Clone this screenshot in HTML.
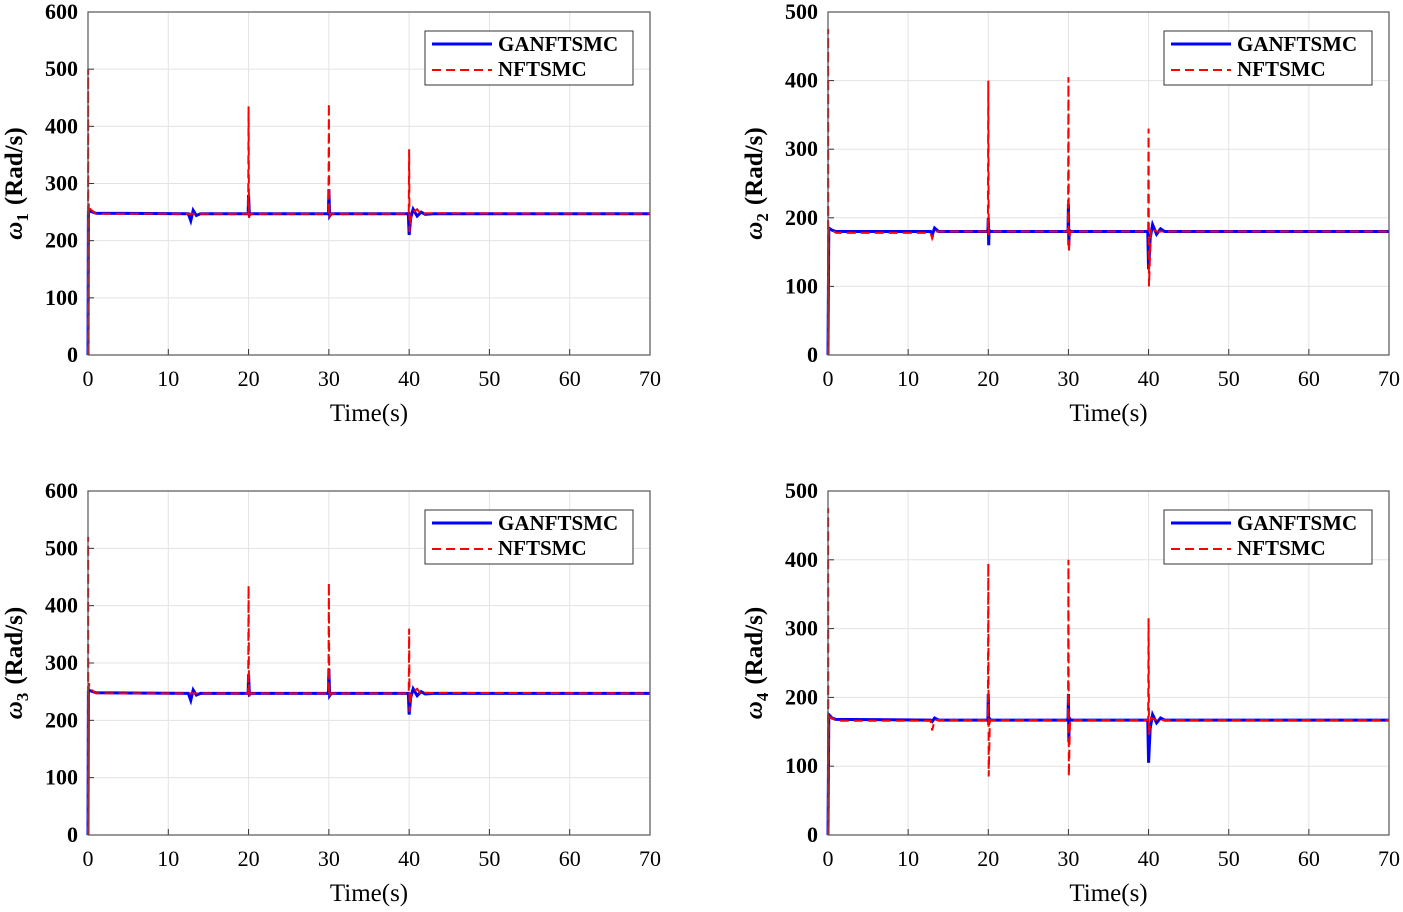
<!DOCTYPE html>
<html><head><meta charset="utf-8"><style>
body{margin:0;background:#fff}
svg text{font-family:"Liberation Serif","Times New Roman",serif}
</style></head><body>
<svg id="s" width="1403" height="907" xmlns="http://www.w3.org/2000/svg" font-family="Liberation Serif, serif"></svg>
<script>
const xTicks=[0,10,20,30,40,50,60,70];
const yTicksA=[0,100,200,300,400,500,600];
const yTicksB=[0,100,200,300,400,500];
const seriesNames=["GANFTSMC","NFTSMC"];
// panel 1
const p1GT=[0,0.05,0.2,1,12.5,12.8,13.1,13.5,14,19.95,20,20.1,20.3,29.95,30,30.1,30.3,39.9,40,40.2,40.5,41,41.5,42,43,70];
const p1GV=[0,250,252,248,247,235,253,244,247,247,280,245,247,247,290,243,247,247,210,240,255,243,250,246,247,247];
const p1NT=[0,0.02,0.05,0.1,0.3,1,19.95,20,20.05,20.2,29.95,30,30.05,30.2,39.95,40,40.05,40.3,41,41.5,42,70];
const p1NV=[0,500,0,265,255,247,247,435,240,247,247,440,240,247,247,360,215,248,255,245,248,247];
// panel 2
const p2GT=[0,0.1,0.5,1,12.8,13,13.3,13.8,19.95,20,20.05,20.1,20.3,29.95,30,30.05,30.1,30.3,39.9,40,40.2,40.5,41,41.5,42,70];
const p2GV=[0,185,182,180,180,175,185,180,180,200,160,182,180,180,220,160,182,180,180,125,170,190,176,184,180,180];
const p2NT=[0,0.02,0.05,0.1,0.5,1,12.8,13,13.3,19.95,20,20.05,20.2,29.95,30,30.05,30.2,39.95,40,40.05,40.3,41,70];
const p2NV=[0,475,0,185,182,178,178,170,180,180,400,175,180,180,405,150,180,180,330,100,185,180,180];
// panel 3
const p3GT=[0,0.05,0.2,1,12.5,12.8,13.1,13.5,14,19.95,20,20.1,20.3,29.95,30,30.1,30.3,39.9,40,40.2,40.5,41,41.5,42,43,70];
const p3GV=[0,250,252,248,247,235,253,244,247,247,280,245,247,247,290,243,247,247,210,240,255,243,250,246,247,247];
const p3NT=[0,0.02,0.05,0.1,0.3,1,19.95,20,20.05,20.2,29.95,30,30.05,30.2,39.95,40,40.05,40.3,41,41.5,42,70];
const p3NV=[0,520,0,265,255,247,247,435,240,247,247,440,240,247,247,360,215,248,255,245,248,247];
// panel 4
const p4GT=[0,0.1,0.5,1,12.8,13,13.3,13.8,19.95,20,20.05,20.1,20.3,29.95,30,30.05,30.1,30.3,39.9,40,40.2,40.5,41,41.5,42,70];
const p4GV=[0,175,170,168,167,165,170,167,167,205,160,170,167,167,205,135,170,167,167,105,155,175,163,170,167,167];
const p4NT=[0,0.02,0.05,0.1,0.5,1,12.8,13,13.3,19.95,20,20.05,20.2,29.95,30,30.05,30.2,39.95,40,40.05,40.3,41,70];
const p4NV=[0,475,0,172,170,166,166,152,167,167,395,85,167,167,400,85,167,167,315,145,170,167,167];

const NS="http://www.w3.org/2000/svg";
const svg=document.getElementById('s');
const FF='Liberation Serif, serif';
function el(tag,attrs,parent){const e=document.createElementNS(NS,tag);for(const k in attrs)e.setAttribute(k,attrs[k]);if(tag==='text')e.setAttribute('font-family',FF);(parent||svg).appendChild(e);return e;}
const panels=[
 {x0:88,x1:650,y0:355,y1:12,ymax:600,yt:yTicksA,sub:"1",gt:p1GT,gv:p1GV,nt:p1NT,nv:p1NV,lx:425},
 {x0:828,x1:1389,y0:355,y1:12,ymax:500,yt:yTicksB,sub:"2",gt:p2GT,gv:p2GV,nt:p2NT,nv:p2NV,lx:1164},
 {x0:88,x1:650,y0:835,y1:491,ymax:600,yt:yTicksA,sub:"3",gt:p3GT,gv:p3GV,nt:p3NT,nv:p3NV,lx:425},
 {x0:828,x1:1389,y0:835,y1:491,ymax:500,yt:yTicksB,sub:"4",gt:p4GT,gv:p4GV,nt:p4NT,nv:p4NV,lx:1164}
];
panels.forEach((p,i)=>{
 const g=el('g',{});
 
 
 const X=t=>p.x0+(t/70)*(p.x1-p.x0);
 const Y=v=>p.y0-(v/p.ymax)*(p.y0-p.y1);
 el('rect',{x:p.x0,y:p.y1,width:p.x1-p.x0,height:p.y0-p.y1,fill:'#fff'},g);
 xTicks.forEach(t=>{
  el('line',{x1:X(t),x2:X(t),y1:p.y1,y2:p.y0,stroke:'#e3e3e3','stroke-width':1},g);
  el('line',{x1:X(t),x2:X(t),y1:p.y0,y2:p.y0-6,stroke:'#333'},g);
  const tx=el('text',{x:X(t),y:p.y0+31,'text-anchor':'middle','font-size':22},g);tx.textContent=t;
  
  
 });
 p.yt.forEach(v=>{
  el('line',{x1:p.x0,x2:p.x1,y1:Y(v),y2:Y(v),stroke:'#e3e3e3','stroke-width':1},g);
  el('line',{x1:p.x0,x2:p.x0+6,y1:Y(v),y2:Y(v),stroke:'#333'},g);
  const tx=el('text',{x:p.x0-10,y:Y(v)+7,'text-anchor':'end','font-size':22,'font-weight':'bold'},g);tx.textContent=v;
  
  
 });
 const pts=(T,V)=>T.map((t,j)=>X(t).toFixed(2)+','+Y(V[j]).toFixed(2)).join(' ');
 const lg=el('polyline',{points:pts(p.gt,p.gv),fill:'none',stroke:'#0000ff','stroke-width':3},g);
 
 
 const ln=el('polyline',{points:pts(p.nt,p.nv),fill:'none',stroke:'#ff0000','stroke-width':2,'stroke-dasharray':'9,5'},g);
 
 
 el('rect',{x:p.x0,y:p.y1,width:p.x1-p.x0,height:p.y0-p.y1,fill:'none',stroke:'#555','stroke-width':1.2},g);
 const xl=el('text',{x:(p.x0+p.x1)/2,y:p.y0+66,'text-anchor':'middle','font-size':25},g);xl.textContent='Time(s)';
 
 
 const cy=(p.y0+p.y1)/2, cx=p.x0-66;
 const yl=el('text',{x:cx,y:cy,'text-anchor':'middle','font-size':25,'font-weight':'bold',transform:`rotate(-90 ${cx} ${cy})`},g);
 yl.innerHTML='<tspan font-style="italic">ω</tspan><tspan font-size="17" dy="6">'+p.sub+'</tspan><tspan dy="-6" dx="8">(Rad/s)</tspan>';
 
 
 const leg=el('g',{},g);
 
 
 const ly=p.y1+19;
 el('rect',{x:p.lx,y:ly,width:208,height:54,fill:'#fff',stroke:'#333','stroke-width':1},leg);
 el('line',{x1:p.lx+7,x2:p.lx+67,y1:ly+13,y2:ly+13,stroke:'#0000ff','stroke-width':3},leg);
 el('line',{x1:p.lx+7,x2:p.lx+67,y1:ly+39,y2:ly+39,stroke:'#ff0000','stroke-width':2,'stroke-dasharray':'9,5'},leg);
 seriesNames.forEach((n,j)=>{const t=el('text',{x:p.lx+73,y:ly+20+j*25,'font-size':21,'font-weight':'bold'},leg);t.textContent=n;
  
  });
});
</script>
</body></html>
